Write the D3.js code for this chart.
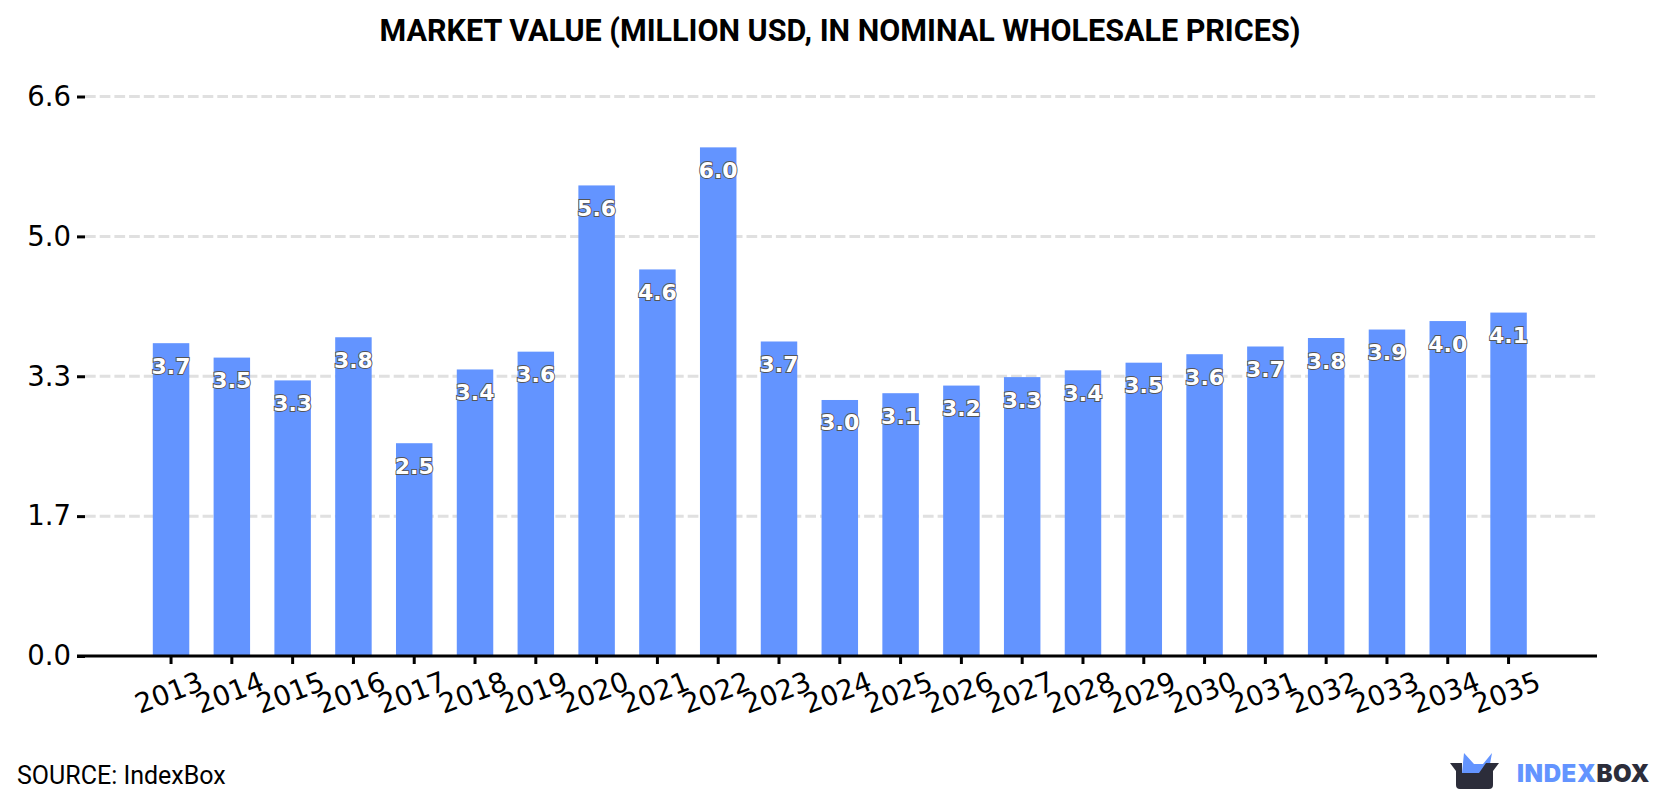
<!DOCTYPE html>
<html>
<head>
<meta charset="utf-8">
<script src="https://cdnjs.cloudflare.com/ajax/libs/d3/7.8.5/d3.min.js"></script>
<style>
  html, body { margin: 0; padding: 0; background: #fff; }
  svg { display: block; }
  .bar-label { font: bold 22px "DejaVu Sans"; fill: #fff; stroke: #555; stroke-width: 1.8px; paint-order: stroke; text-anchor: middle; }
  .tick text { font-family: "DejaVu Sans"; fill: #000; }
</style>
</head>
<body>
<svg id="chart" width="1680" height="800"></svg>
<script>
const years = ["2013","2014","2015","2016","2017","2018","2019","2020","2021","2022","2023","2024","2025","2026","2027","2028","2029","2030","2031","2032","2033","2034","2035"];
const marketValue = [3.69,3.52,3.251,3.76,2.51,3.38,3.59,5.551,4.56,6.0,3.71,3.02,3.10,3.19,3.29,3.37,3.46,3.56,3.651,3.751,3.851,3.951,4.051];
const yTicks = [0,1.65,3.3,4.95,6.6];
const yTickLabels = ["0.0","1.7","3.3","5.0","6.6"];

const titleText = "MARKET VALUE (MILLION USD, IN NOMINAL WHOLESALE PRICES)";
const sourceText = "SOURCE: IndexBox";

const margin = { top: 96.5, left: 85, right: 83, bottom: 144 };
const W = 1680, H = 800;
const svg = d3.select("#chart");

const x = d3.scaleBand().domain(years)
  .range([margin.left - 1.2, W - margin.right - 1.2])
  .paddingInner(0.4).paddingOuter(1.135);
const y = d3.scaleLinear().domain([0, 6.6]).range([H - margin.bottom, margin.top]);

// Title
svg.append("text").attr("x", 840).attr("y", 41)
  .attr("text-anchor", "middle")
  .style("font", "bold 30.5px Roboto").style("fill", "#000")
  .text(titleText);

// Dashed gridlines
svg.append("g").selectAll("line").data(yTicks.slice(1)).join("line")
  .attr("x1", margin.left).attr("x2", W - margin.right)
  .attr("y1", d => y(d)).attr("y2", d => y(d))
  .attr("stroke", "#e0e0e0").attr("stroke-width", 3)
  .attr("stroke-dasharray", "10.7 4");

// Bars
svg.append("g").selectAll("rect").data(marketValue).join("rect")
  .attr("x", (d, i) => x(years[i]))
  .attr("width", x.bandwidth())
  .attr("y", d => y(d))
  .attr("height", d => y(0) - y(d))
  .attr("fill", "#6394ff");

// Y axis
const yAxis = d3.axisLeft(y).tickValues(yTicks)
  .tickFormat((d, i) => yTickLabels[i]).tickSize(8).tickPadding(6);
const gy = svg.append("g").attr("transform", `translate(${margin.left},0)`).call(yAxis);
gy.select(".domain").remove();
gy.selectAll(".tick line").attr("stroke", "#000").attr("stroke-width", 3);
gy.selectAll(".tick text").style("font-size", "27.5px");

// X axis
const xAxis = d3.axisBottom(x).tickSize(8).tickPadding(0);
const gx = svg.append("g").attr("transform", `translate(0,${y(0)})`).call(xAxis);
gx.select(".domain").remove();
gx.selectAll(".tick line").attr("stroke", "#000").attr("stroke-width", 3);
gx.selectAll(".tick text")
  .style("font-size", "27.5px")
  .attr("text-anchor", "middle")
  .attr("dy", null)
  .attr("y", 0)
  .attr("transform", "translate(-2,37) rotate(-21) translate(0,9)");

svg.append("line")
  .attr("x1", margin.left - 8).attr("x2", W - margin.right)
  .attr("y1", y(0)).attr("y2", y(0))
  .attr("stroke", "#000").attr("stroke-width", 3);

// Value labels inside the bars
const valueFormat = d3.format(".1f");
svg.append("g").selectAll("text").data(marketValue).join("text")
  .attr("class", "bar-label")
  .attr("x", (d, i) => x(years[i]) + x.bandwidth() / 2)
  .attr("y", d => y(d) + 30.5)
  .text(d => valueFormat(d));

// Source note
svg.append("text").attr("x", 17).attr("y", 784)
  .style("font", "25px Roboto").style("fill", "#000")
  .text(sourceText);

// Brand mark
const logo = svg.append("g").attr("transform", "translate(1450,753)");
logo.append("path").attr("fill", "#6394ff")
  .attr("d", "M12 20 L14 0 L24 11 L33 11 L42 0 L38 22 L12 24 Z");
logo.append("path").attr("fill", "#2c2d3a")
  .attr("d", "M0 10 L12 10 L12 20 L29 20 L36 10 L49 10 L43 18 L43 32 Q43 36 39 36 L10 36 Q6 36 6 32 L6 18 Z");
const brand = svg.append("text").attr("x", 1517).attr("y", 782)
  .style("font", "900 24px Inter").style("letter-spacing", "0.6px");
brand.append("tspan").attr("fill", "#6394ff").text("INDEX");
brand.append("tspan").attr("fill", "#2c2d3a").text("BOX");
</script>
</body>
</html>
